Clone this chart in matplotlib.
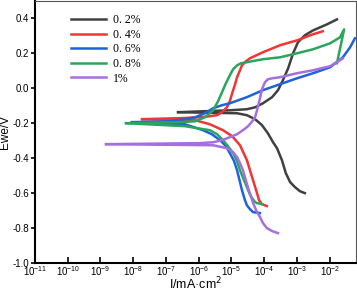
import matplotlib
matplotlib.use('Agg')
import matplotlib.pyplot as plt
import numpy as np

# log10(I) and E for each curve, anodic and cathodic branches from Ecorr
labels = ['0. 2%', '0. 4%', '0. 6%', '0. 8%', '1%']
colors = ['#404040', '#f03535', '#1f62dc', '#2aa65c', '#a56fe0']

an_logi = [
    [-6.63, -5.05, -4.53, -4.28, -4.04, -3.76, -3.58, -3.43, -3.27, -3.12, -2.97, -2.76, -2.51, -2.08, -1.78],
    [-7.73, -6.57, -5.96, -5.66, -5.44, -5.29, -5.14, -5.05, -4.98, -4.89, -4.83, -4.74, -4.68, -4.56, -4.44,
     -4.04, -3.52, -3.0, -2.51, -2.21],
    [-8.04, -6.88, -6.42, -6.11, -5.81, -5.56, -5.29, -5.05, -4.53, -4.04, -3.52, -3.0, -2.51, -1.99,
     -1.60, -1.38, -1.23],
    [-8.22, -6.57, -6.11, -5.81, -5.56, -5.41, -5.29, -5.17, -5.05, -4.95, -4.83, -4.71, -4.53, -4.04,
     -3.52, -3.0, -2.51, -1.99, -1.69, -1.56, -1.78],
    [-8.83, -5.96, -5.56, -5.29, -5.05, -4.83, -4.65, -4.53, -4.44, -4.34, -4.28, -4.22, -4.13, -4.07,
     -3.98, -3.89, -3.76, -3.52, -3.0, -2.51, -1.99, -1.60],
]
an_e = [
    [-0.137, -0.126, -0.12, -0.109, -0.086, -0.051, -0.011, 0.046, 0.114, 0.2, 0.263, 0.303, 0.331, 0.366, 0.394],
    [-0.177, -0.171, -0.166, -0.16, -0.154, -0.137, -0.109, -0.074, -0.029, 0.023, 0.063, 0.103, 0.131, 0.154,
     0.171, 0.206, 0.246, 0.274, 0.309, 0.326],
    [-0.194, -0.189, -0.177, -0.166, -0.143, -0.114, -0.097, -0.086, -0.051, -0.011, 0.023, 0.057, 0.086, 0.12,
     0.177, 0.234, 0.286],
    [-0.2, -0.194, -0.189, -0.166, -0.126, -0.074, -0.023, 0.029, 0.074, 0.109, 0.131, 0.143, 0.149, 0.166,
     0.177, 0.2, 0.223, 0.257, 0.291, 0.337, 0.143],
    [-0.32, -0.314, -0.309, -0.297, -0.28, -0.263, -0.24, -0.223, -0.206, -0.183, -0.166, -0.126, -0.057,
     -0.006, 0.034, 0.051, 0.057, 0.063, 0.086, 0.103, 0.126, 0.171],
]
cat_logi = [
    [-6.63, -4.83, -4.53, -4.28, -4.07, -3.89, -3.73, -3.61, -3.46, -3.34, -3.21, -3.06, -2.91, -2.76],
    [-7.73, -6.11, -5.66, -5.26, -4.98, -4.74, -4.53, -4.37, -4.22, -4.16, -4.07, -3.92],
    [-8.04, -6.42, -5.87, -5.60, -5.35, -5.17, -5.05, -4.92, -4.83, -4.68, -4.59, -4.53, -4.44, -4.34, -4.13],
    [-8.22, -6.42, -5.66, -5.44, -5.26, -5.11, -4.95, -4.83, -4.74, -4.53, -4.44, -4.37, -4.28, -4.22, -4.07],
    [-8.83, -5.56, -5.14, -4.95, -4.83, -4.74, -4.65, -4.50, -4.34, -4.25, -4.13, -4.04, -3.92, -3.76, -3.58],
]
cat_e = [
    [-0.137, -0.143, -0.154, -0.177, -0.211, -0.257, -0.309, -0.343, -0.411, -0.486, -0.537, -0.566, -0.589, -0.6],
    [-0.177, -0.183, -0.206, -0.24, -0.274, -0.326, -0.411, -0.509, -0.6, -0.64, -0.663, -0.674],
    [-0.194, -0.206, -0.24, -0.263, -0.297, -0.331, -0.371, -0.417, -0.469, -0.583, -0.64, -0.669, -0.691,
     -0.709, -0.714],
    [-0.2, -0.217, -0.24, -0.263, -0.297, -0.331, -0.371, -0.417, -0.469, -0.566, -0.606, -0.629, -0.651,
     -0.657, -0.663],
    [-0.32, -0.326, -0.343, -0.366, -0.394, -0.429, -0.469, -0.566, -0.657, -0.697, -0.737, -0.771, -0.8,
     -0.817, -0.829],
]

plt.rcParams['font.family'] = ['Liberation Sans', 'DejaVu Sans']
fig = plt.figure(figsize=(3.57, 2.9), dpi=100)
ax = fig.add_axes([0.098, 0.093, 0.899, 0.904])

for i in range(len(labels)):
    ax.plot(10 ** np.array(an_logi[i]), an_e[i], color=colors[i], lw=1.8, label=labels[i],
            solid_joinstyle='round')
    ax.plot(10 ** np.array(cat_logi[i]), cat_e[i], color=colors[i], lw=1.8, solid_joinstyle='round')

ax.set_xscale('log')
ax.set_xlim(1e-11, 10 ** -1.2)
ax.set_ylim(-1.0, 0.5)
ax.set_yticks([-1.0, -0.8, -0.6, -0.4, -0.2, 0.0, 0.2, 0.4])
ax.set_yticklabels(['-1.0', '-0.8', '-0.6', '-0.4', '-0.2', '0.0', '0.2', '0.4'])
ax.set_xticks([10.0 ** k for k in range(-11, -1)])
ax.xaxis.set_minor_locator(matplotlib.ticker.NullLocator())
ax.tick_params(axis='x', direction='in', length=4, width=1.2, labelsize=7, pad=1)
ax.tick_params(axis='y', direction='out', length=3, width=1.2, labelsize=7, pad=1)
ax.spines['left'].set_linewidth(1.5)
ax.spines['bottom'].set_linewidth(1.5)
for s in ['top', 'right']:
    ax.spines[s].set_linewidth(0.8)
    ax.spines[s].set_color('#555555')

ax.set_xlabel('I/mA·cm$^2$', fontsize=9)
ax.xaxis.set_label_coords(0.5, -0.048, transform=ax.transAxes)
ax.xaxis.label.set_verticalalignment('top')
ax.set_ylabel('Ewe/V', fontsize=8.5, labelpad=0)
ax.yaxis.set_label_coords(-0.075, 0.5)

leg = ax.legend(loc='upper left', bbox_to_anchor=(0.08, 0.99), frameon=False,
                prop={'family': 'Liberation Serif', 'size': 8.5}, handlelength=2.9,
                labelspacing=0.22, handletextpad=0.6)

fig.savefig('out.png', dpi=100)
